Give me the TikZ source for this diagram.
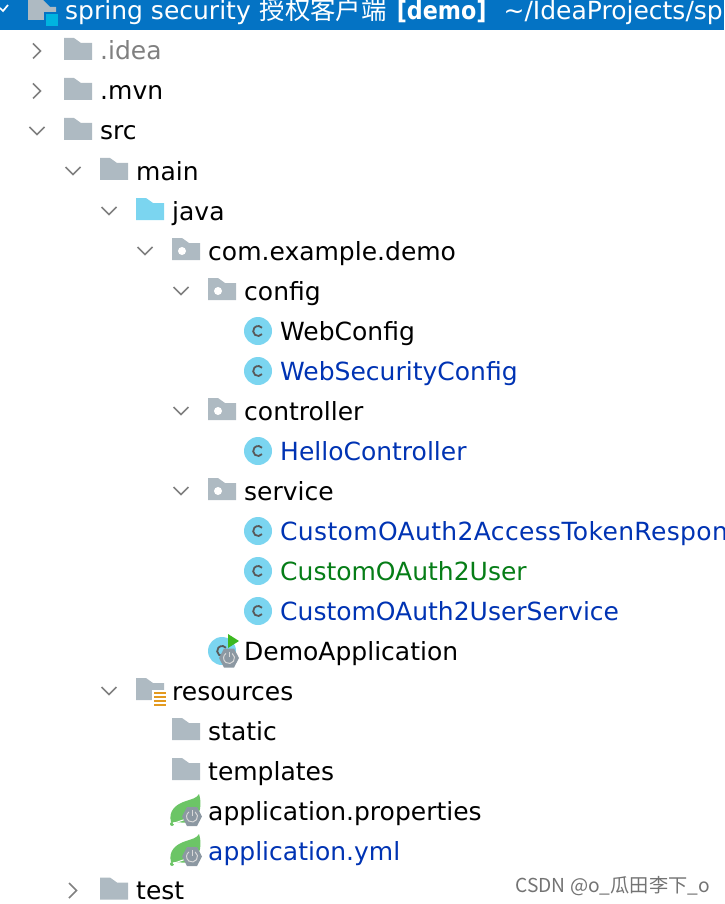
\documentclass[tikz,border=0pt]{standalone}
\usepackage{fontspec}
\setmainfont{DejaVu Sans}
\newfontfamily\cjkfont{Noto Sans CJK SC}
\usepackage{tikz}
\definecolor{barblue}{HTML}{0473C4}
\definecolor{foldergray}{HTML}{AEBAC2}
\definecolor{srcblue}{HTML}{7BD5F0}
\definecolor{chevgray}{HTML}{808080}
\definecolor{modblue}{HTML}{0033B3}
\definecolor{newgreen}{HTML}{067D17}
\definecolor{leafgreen}{HTML}{6CC566}
\definecolor{boltgray}{HTML}{8C98A2}
\definecolor{resorange}{HTML}{E39A1F}
\definecolor{runcyan}{HTML}{00B4E0}
\definecolor{rungreen}{HTML}{3CB81F}
\tikzset{
  rowtext/.style={anchor=base west,inner sep=0pt,font=\fontsize{25}{28}\selectfont},
  chevron/.style={draw=chevgray,line width=1.7pt,fill=none},
  pics/chevright/.style={code={\draw[chevron] (-4,-7.5) -- (3.5,0) -- (-4,7.5);}},
  pics/chevdown/.style={code={\draw[chevron] (-7.5,-4) -- (0,3.5) -- (7.5,-4);}},
  pics/folder/.style={code={\fill[#1] (0,-13) -- (10,-13) -- (17,-8) -- (28,-8) -- (28,9) -- (0,9) -- cycle;}},
  pics/folder/.default=foldergray,
  pics/pkgfolder/.style={code={
    \fill[foldergray] (0,-13) -- (10,-13) -- (17,-8) -- (28,-8) -- (28,9) -- (0,9) -- cycle;
    \fill[white] (10,0) circle (4);}},
  pics/classicon/.style={code={
    \fill[srcblue] (0,0) circle (14);
    \draw[line width=1.8pt,draw=black!65] (4,3.2) arc (40:320:5);}},
  pics/bolt/.style={code={
    \fill[boltgray] (-10,0) -- (-5,-9.5) -- (5,-9.5) -- (10,0) -- (5,9.5) -- (-5,9.5) -- cycle;
    \draw[white!85!black,line width=1pt] (3.2,-4.5) arc (-55:235:5.5);
    \draw[white!85!black,line width=1pt] (0,-6.5) -- (0,-1);}},
  pics/springicon/.style={code={
    \fill[leafgreen] (-1,11) .. controls (-4,0) and (4,-7) .. (14,-10) .. controls (20,-12) and (25,-13) .. (27,-17) .. controls (30,-8) and (29,4) .. (20,12) -- cycle;
    \fill[leafgreen] (0,13) circle (2);
    \draw[white,line width=1pt] (1,12.5) -- (14,8);
    \pic at (20,5.5) {bolt};}},
}
\begin{document}
\begin{tikzpicture}[x=1pt,y=-1pt]
\useasboundingbox (0,0) rectangle (724,904);
\clip (0,0) rectangle (724,904);
\fill[barblue] (0,0) rectangle (724,30);
% title bar
\draw[white,line width=1.7pt] (0,8) -- (3,11) -- (8,5);
\fill[foldergray] (28,0) -- (43,0) -- (50,7) -- (56,7) -- (56,20) -- (28,20) -- cycle;
\fill[barblue] (44,12) rectangle (60,28);
\fill[runcyan] (46,14) rectangle (58,26);
\node[rowtext,text=white] (title) at (65,20) {spring security\hspace{9pt}{\cjkfont\fontsize{25.4}{28}\selectfont 授权客户端}\hspace{10pt}\scalebox{0.89}[1]{\textbf{[demo]}}\hspace{17pt}\textasciitilde/IdeaProjects/sp};
% top level
\pic at (37,51) {chevright};
\pic at (64,51) {folder};
\node[rowtext,text=chevgray] (idea) at (100,60) {.idea};
\pic at (37,91) {chevright};
\pic at (64,91) {folder};
\node[rowtext] (mvn) at (100,100) {.mvn};
\pic at (37,131) {chevdown};
\pic at (64,131) {folder};
\node[rowtext] (src) at (100,140) {src};
\pic at (73,171) {chevdown};
\pic at (100,171) {folder};
\node[rowtext] (main) at (136,180) {main};
\pic at (109,211) {chevdown};
\pic at (136,211) {folder=srcblue};
\node[rowtext] (java) at (172,220) {java};
\pic at (145,251) {chevdown};
\pic at (172,251) {pkgfolder};
\node[rowtext] (demopkg) at (208,260) {com.example.demo};
% config
\pic at (181,291) {chevdown};
\pic at (208,291) {pkgfolder};
\node[rowtext] (config) at (244,300) {config};
\pic at (258,331) {classicon};
\node[rowtext] (webconfig) at (280,340) {WebConfig};
\pic at (258,371) {classicon};
\node[rowtext,text=modblue] (websecurity) at (280,380) {WebSecurityConfig};
% controller
\pic at (181,411) {chevdown};
\pic at (208,411) {pkgfolder};
\node[rowtext] (controller) at (244,420) {controller};
\pic at (258,451) {classicon};
\node[rowtext,text=modblue] (hello) at (280,460) {HelloController};
% service
\pic at (181,491) {chevdown};
\pic at (208,491) {pkgfolder};
\node[rowtext] (service) at (244,500) {service};
\pic at (258,531) {classicon};
\node[rowtext,text=modblue] (tokenresp) at (280,540) {\addfontfeature{LetterSpace=1.4}CustomOAuth2AccessTokenRespon};
\pic at (258,571) {classicon};
\node[rowtext,text=newgreen] (oauthuser) at (280,580) {CustomOAuth2User};
\pic at (258,611) {classicon};
\node[rowtext,text=modblue] (userservice) at (280,620) {CustomOAuth2UserService};
\pic at (222,651) {classicon};
\fill[rungreen] (228,634) -- (239,641) -- (228,648) -- cycle;
\begin{scope}[shift={(229,658)},scale=0.85]
  \pic at (0,0) {bolt};
\end{scope}
\node[rowtext] (demoapp) at (244,660) {DemoApplication};
% resources
\pic at (109,691) {chevdown};
\pic at (136,691) {folder};
\fill[white] (152,690) rectangle (168,708);
\foreach \yy in {692,696,700,704}
  \fill[resorange] (154,\yy) rectangle (166,\yy+2.4);
\node[rowtext] (resources) at (172,700) {resources};
\pic at (172,731) {folder};
\node[rowtext] (static) at (208,740) {static};
\pic at (172,771) {folder};
\node[rowtext] (templates) at (208,780) {templates};
\pic at (172,811) {springicon};
\node[rowtext] (props) at (208,820) {application.properties};
\pic at (172,851) {springicon};
\node[rowtext,text=modblue] (yml) at (208,860) {application.yml};
\pic at (73,890.5) {chevright};
\pic at (100,890.5) {folder};
\node[rowtext] (test) at (136,899) {test};
% watermark
\node[anchor=base east,inner sep=0pt,text=black!55,font=\fontsize{19.2}{20}\selectfont\cjkfont] (mark) at (710,892) {CSDN @o\_瓜田李下\_o};
\end{tikzpicture}
\end{document}
